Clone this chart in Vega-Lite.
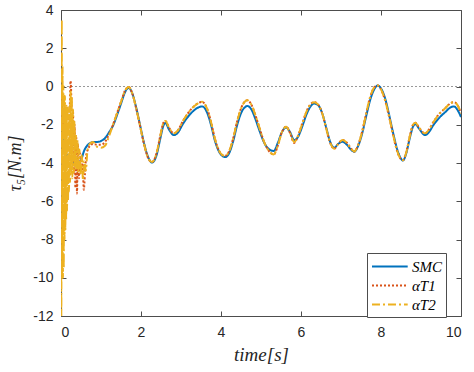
{
  "$schema": "https://vega.github.io/schema/vega-lite/v6.json",
  "width": 400,
  "height": 306,
  "autosize": {"type": "none"},
  "padding": {"left": 61, "top": 10, "right": 13, "bottom": 56},
  "background": "white",
  "config": {
    "view": {"stroke": "#4d4d4d", "strokeWidth": 1},
    "axis": {
      "grid": false,
      "domain": false,
      "tickColor": "#4d4d4d",
      "tickSize": -5,
      "labelFont": "Liberation Sans",
      "labelFontSize": 14,
      "labelColor": "#262626",
      "titleFont": "Liberation Serif",
      "titleFontStyle": "italic",
      "titleFontWeight": "normal",
      "titleColor": "#262626"
    },
    "legend": {
      "title": null, "orient": "none", "legendX": 306, "legendY": 243,
      "symbolType": "M-1,0H3.2", "symbolSize": 289, "symbolStrokeWidth": 2,
      "labelOffset": 22, "labelFont": "Liberation Serif", "labelFontStyle": "italic",
      "labelFontSize": 15, "labelColor": "#000000", "fillColor": "white",
      "strokeColor": "#4d4d4d", "padding": 4, "rowPadding": 1
    }
  },
  "resolve": {"axis": {"x": "independent", "y": "independent"}},
  "layer": [
    {
      "data": {"values": [{"z": 0}]},
      "mark": {"type": "rule", "color": "#999999", "strokeDash": [2, 2], "strokeWidth": 1},
      "encoding": {
        "y": {"field": "z", "type": "quantitative", "scale": {"domain": [-12, 4], "nice": false}, "axis": null}
      }
    },
    {
      "data": {
        "values": [
          {"t": 0, "SMC": 0}, {"t": 0.03, "SMC": -1.2}, {"t": 0.06, "SMC": -2.6}, {"t": 0.1, "SMC": -3.3},
          {"t": 0.15, "SMC": -3.6}, {"t": 0.2, "SMC": -3.6}, {"t": 0.3, "SMC": -3.9}, {"t": 0.4, "SMC": -4.03},
          {"t": 0.5, "SMC": -3.85}, {"t": 0.58, "SMC": -3.35}, {"t": 0.65, "SMC": -3.1}, {"t": 0.72, "SMC": -2.97},
          {"t": 0.8, "SMC": -2.9}, {"t": 0.9, "SMC": -2.9},
          {"t": 0, "αT1": 0}, {"t": 0.03, "αT1": -1.6}, {"t": 0.06, "αT1": -2.0}, {"t": 0.1, "αT1": -2.1},
          {"t": 0.14, "αT1": -2.0}, {"t": 0.17, "αT1": -2.2}, {"t": 0.2, "αT1": -1.9}, {"t": 0.22, "αT1": -1.0},
          {"t": 0.24, "αT1": 0.3}, {"t": 0.26, "αT1": -0.8}, {"t": 0.28, "αT1": -3.0}, {"t": 0.3, "αT1": -1.3},
          {"t": 0.32, "αT1": -4.5}, {"t": 0.34, "αT1": -2.0}, {"t": 0.36, "αT1": -5.3}, {"t": 0.38, "αT1": -2.6},
          {"t": 0.4, "αT1": -5.6}, {"t": 0.42, "αT1": -3.0}, {"t": 0.45, "αT1": -4.8}, {"t": 0.48, "αT1": -3.5},
          {"t": 0.51, "αT1": -4.3}, {"t": 0.54, "αT1": -4.0}, {"t": 0.57, "αT1": -5.4}, {"t": 0.6, "αT1": -4.5},
          {"t": 0.63, "αT1": -3.6}, {"t": 0.67, "αT1": -3.3}, {"t": 0.72, "αT1": -3.1}, {"t": 0.8, "αT1": -3.0},
          {"t": 0.9, "αT1": -3.05},
          {"t": 0, "αT2": 0}, {"t": 0.008, "αT2": -12}, {"t": 0.018, "αT2": 3.5}, {"t": 0.028, "αT2": -10},
          {"t": 0.038, "αT2": 1.0}, {"t": 0.048, "αT2": -10}, {"t": 0.058, "αT2": 0}, {"t": 0.068, "αT2": -9.5},
          {"t": 0.078, "αT2": -0.5}, {"t": 0.088, "αT2": -8}, {"t": 0.098, "αT2": -0.5}, {"t": 0.108, "αT2": -7.5},
          {"t": 0.118, "αT2": -1}, {"t": 0.128, "αT2": -7}, {"t": 0.138, "αT2": -1}, {"t": 0.15, "αT2": -6.5},
          {"t": 0.162, "αT2": -1}, {"t": 0.175, "αT2": -6}, {"t": 0.188, "αT2": -1.5}, {"t": 0.2, "αT2": -5.5},
          {"t": 0.213, "αT2": -1}, {"t": 0.226, "αT2": -5}, {"t": 0.24, "αT2": -0.2}, {"t": 0.255, "αT2": -4.5},
          {"t": 0.27, "αT2": -0.5}, {"t": 0.285, "αT2": -4.8}, {"t": 0.3, "αT2": -1.2}, {"t": 0.318, "αT2": -4.5},
          {"t": 0.336, "αT2": -1.8}, {"t": 0.354, "αT2": -4.3}, {"t": 0.372, "αT2": -2.5}, {"t": 0.392, "αT2": -4.4},
          {"t": 0.412, "αT2": -2.8}, {"t": 0.435, "αT2": -4.5}, {"t": 0.46, "αT2": -3.3}, {"t": 0.49, "αT2": -4.6},
          {"t": 0.52, "αT2": -3.6}, {"t": 0.55, "αT2": -4.9}, {"t": 0.58, "αT2": -3.9}, {"t": 0.62, "αT2": -4.4},
          {"t": 0.66, "αT2": -3.4}, {"t": 0.72, "αT2": -3.0}, {"t": 0.8, "αT2": -2.9}, {"t": 0.9, "αT2": -3.15},
          {"t": 1.0, "SMC": -2.85, "αT1": -3.05, "αT2": -3.2},
          {"t": 1.1, "SMC": -2.7, "αT1": -2.9, "αT2": -3.1},
          {"t": 1.2, "SMC": -2.4, "αT1": -2.5, "αT2": -2.6},
          {"t": 1.3, "SMC": -2.05, "αT1": -2.0, "αT2": -2.0},
          {"t": 1.4, "SMC": -1.5, "αT1": -1.4, "αT2": -1.4},
          {"t": 1.5, "SMC": -0.9, "αT1": -0.8, "αT2": -0.8},
          {"t": 1.6, "SMC": -0.3, "αT1": -0.22, "αT2": -0.22},
          {"t": 1.69, "SMC": -0.07, "αT1": -0.02, "αT2": -0.02},
          {"t": 1.78, "SMC": -0.35, "αT1": -0.35, "αT2": -0.35},
          {"t": 1.88, "SMC": -1.1, "αT1": -1.15, "αT2": -1.15},
          {"t": 1.98, "SMC": -2.05, "αT1": -2.1, "αT2": -2.1},
          {"t": 2.08, "SMC": -3.0, "αT1": -3.05, "αT2": -3.05},
          {"t": 2.18, "SMC": -3.7, "αT1": -3.75, "αT2": -3.75},
          {"t": 2.275, "SMC": -3.98, "αT1": -3.95, "αT2": -3.95},
          {"t": 2.38, "SMC": -3.65, "αT1": -3.55, "αT2": -3.55},
          {"t": 2.48, "SMC": -2.75, "αT1": -2.6, "αT2": -2.6},
          {"t": 2.56, "SMC": -2.05, "αT1": -1.9, "αT2": -1.9},
          {"t": 2.61, "SMC": -1.9, "αT1": -1.8, "αT2": -1.8},
          {"t": 2.7, "SMC": -2.25, "αT1": -2.15, "αT2": -2.15},
          {"t": 2.82, "SMC": -2.54, "αT1": -2.45, "αT2": -2.45},
          {"t": 2.92, "SMC": -2.42, "αT1": -2.3, "αT2": -2.3},
          {"t": 3.05, "SMC": -1.95, "αT1": -1.8, "αT2": -1.8},
          {"t": 3.25, "SMC": -1.4, "αT1": -1.2, "αT2": -1.2},
          {"t": 3.45, "SMC": -1.08, "αT1": -0.85, "αT2": -0.85},
          {"t": 3.53, "SMC": -1.04, "αT1": -0.8, "αT2": -0.8},
          {"t": 3.65, "SMC": -1.35, "αT1": -1.15, "αT2": -1.15},
          {"t": 3.75, "SMC": -2.0, "αT1": -1.85, "αT2": -1.85},
          {"t": 3.85, "SMC": -2.85, "αT1": -2.75, "αT2": -2.75},
          {"t": 3.95, "SMC": -3.4, "αT1": -3.35, "αT2": -3.35},
          {"t": 4.05, "SMC": -3.65, "αT1": -3.6, "αT2": -3.6},
          {"t": 4.11, "SMC": -3.69, "αT1": -3.62, "αT2": -3.62},
          {"t": 4.2, "SMC": -3.5, "αT1": -3.4, "αT2": -3.4},
          {"t": 4.3, "SMC": -2.9, "αT1": -2.75, "αT2": -2.75},
          {"t": 4.4, "SMC": -2.05, "αT1": -1.85, "αT2": -1.85},
          {"t": 4.5, "SMC": -1.4, "αT1": -1.15, "αT2": -1.15},
          {"t": 4.6, "SMC": -1.08, "αT1": -0.78, "αT2": -0.78},
          {"t": 4.66, "SMC": -1.02, "αT1": -0.72, "αT2": -0.72},
          {"t": 4.76, "SMC": -1.2, "αT1": -0.95, "αT2": -0.95},
          {"t": 4.86, "SMC": -1.7, "αT1": -1.5, "αT2": -1.5},
          {"t": 4.96, "SMC": -2.3, "αT1": -2.15, "αT2": -2.15},
          {"t": 5.06, "SMC": -2.85, "αT1": -2.8, "αT2": -2.8},
          {"t": 5.16, "SMC": -3.2, "αT1": -3.25, "αT2": -3.25},
          {"t": 5.32, "SMC": -3.37, "αT1": -3.55, "αT2": -3.55},
          {"t": 5.42, "SMC": -2.95, "αT1": -3.1, "αT2": -3.1},
          {"t": 5.52, "SMC": -2.4, "αT1": -2.4, "αT2": -2.4},
          {"t": 5.63, "SMC": -2.14, "αT1": -2.1, "αT2": -2.1},
          {"t": 5.73, "SMC": -2.4, "αT1": -2.45, "αT2": -2.45},
          {"t": 5.83, "SMC": -2.8, "αT1": -2.95, "αT2": -2.9},
          {"t": 5.93, "SMC": -2.62, "αT1": -2.55, "αT2": -2.55},
          {"t": 6.03, "SMC": -2.1, "αT1": -1.95, "αT2": -1.95},
          {"t": 6.13, "SMC": -1.5, "αT1": -1.35, "αT2": -1.35},
          {"t": 6.23, "SMC": -1.07, "αT1": -0.95, "αT2": -0.95},
          {"t": 6.33, "SMC": -0.89, "αT1": -0.82, "αT2": -0.82},
          {"t": 6.43, "SMC": -0.98, "αT1": -0.95, "αT2": -0.95},
          {"t": 6.53, "SMC": -1.4, "αT1": -1.4, "αT2": -1.4},
          {"t": 6.63, "SMC": -2.15, "αT1": -2.2, "αT2": -2.2},
          {"t": 6.73, "SMC": -2.9, "αT1": -2.95, "αT2": -2.95},
          {"t": 6.83, "SMC": -3.2, "αT1": -3.25, "αT2": -3.25},
          {"t": 6.93, "SMC": -3.0, "αT1": -3.0, "αT2": -3.0},
          {"t": 7.04, "SMC": -2.89, "αT1": -2.8, "αT2": -2.8},
          {"t": 7.15, "SMC": -3.05, "αT1": -2.95, "αT2": -2.95},
          {"t": 7.25, "SMC": -3.3, "αT1": -3.25, "αT2": -3.25},
          {"t": 7.33, "SMC": -3.41, "αT1": -3.4, "αT2": -3.4},
          {"t": 7.43, "SMC": -3.1, "αT1": -3.05, "αT2": -3.05},
          {"t": 7.53, "SMC": -2.45, "αT1": -2.35, "αT2": -2.35},
          {"t": 7.63, "SMC": -1.55, "αT1": -1.4, "αT2": -1.4},
          {"t": 7.73, "SMC": -0.7, "αT1": -0.55, "αT2": -0.55},
          {"t": 7.83, "SMC": -0.15, "αT1": -0.05, "αT2": -0.05},
          {"t": 7.92, "SMC": 0.05, "αT1": 0.05, "αT2": 0.05},
          {"t": 8.0, "SMC": -0.1, "αT1": -0.15, "αT2": -0.15},
          {"t": 8.1, "SMC": -0.6, "αT1": -0.7, "αT2": -0.7},
          {"t": 8.2, "SMC": -1.45, "αT1": -1.55, "αT2": -1.55},
          {"t": 8.3, "SMC": -2.4, "αT1": -2.5, "αT2": -2.5},
          {"t": 8.4, "SMC": -3.25, "αT1": -3.35, "αT2": -3.35},
          {"t": 8.48, "SMC": -3.7, "αT1": -3.75, "αT2": -3.75},
          {"t": 8.55, "SMC": -3.87, "αT1": -3.85, "αT2": -3.85},
          {"t": 8.63, "SMC": -3.5, "αT1": -3.45, "αT2": -3.45},
          {"t": 8.72, "SMC": -2.7, "αT1": -2.6, "αT2": -2.6},
          {"t": 8.8, "SMC": -2.1, "αT1": -2.0, "αT2": -2.0},
          {"t": 8.86, "SMC": -1.96, "αT1": -1.9, "αT2": -1.9},
          {"t": 8.95, "SMC": -2.2, "αT1": -2.15, "αT2": -2.15},
          {"t": 9.1, "SMC": -2.54, "αT1": -2.45, "αT2": -2.45},
          {"t": 9.2, "SMC": -2.38, "αT1": -2.25, "αT2": -2.25},
          {"t": 9.3, "SMC": -2.05, "αT1": -1.9, "αT2": -1.9},
          {"t": 9.45, "SMC": -1.65, "αT1": -1.45, "αT2": -1.45},
          {"t": 9.6, "SMC": -1.35, "αT1": -1.15, "αT2": -1.15},
          {"t": 9.72, "SMC": -1.12, "αT1": -0.9, "αT2": -0.9},
          {"t": 9.82, "SMC": -1.04, "αT1": -0.82, "αT2": -0.82},
          {"t": 9.92, "SMC": -1.25, "αT1": -1.0, "αT2": -1.0},
          {"t": 10, "SMC": -1.6, "αT1": -1.4, "αT2": -1.4}
        ]
      },
      "transform": [
        {"fold": ["SMC", "αT1", "αT2"], "as": ["s", "v"]},
        {"filter": "isValid(datum.v)"}
      ],
      "mark": {"type": "line", "interpolate": "monotone", "strokeWidth": 2, "clip": true},
      "encoding": {
        "x": {
          "field": "t", "type": "quantitative",
          "scale": {"domain": [0, 10], "nice": false},
          "axis": {"orient": "bottom", "values": [0, 2, 4, 6, 8, 10], "title": "time[s]", "titleFontSize": 19, "labelPadding": 14, "titlePadding": 6}
        },
        "y": {
          "field": "v", "type": "quantitative",
          "scale": {"domain": [-12, 4], "nice": false},
          "axis": {"orient": "left", "values": [-12, -10, -8, -6, -4, -2, 0, 2, 4], "labelExpr": "replace(datum.label, '−', '-')", "title": "τ₅[N.m]", "titleFontSize": 18, "labelPadding": 13, "titlePadding": 8}
        },
        "color": {
          "field": "s", "type": "nominal",
          "scale": {"domain": ["SMC", "αT1", "αT2"], "range": ["#0072BD", "#D95319", "#EDB120"]}
        },
        "strokeDash": {
          "field": "s", "type": "nominal",
          "scale": {"domain": ["SMC", "αT1", "αT2"], "range": [[1, 0], [2, 2], [8, 3, 2, 3]]}
        }
      }
    },
    {
      "data": {"values": [{"t": 0, "v": 0}]},
      "mark": {"type": "point", "opacity": 0},
      "encoding": {
        "x": {"field": "t", "type": "quantitative", "scale": {"domain": [0, 10], "nice": false}, "axis": {"orient": "top", "values": [0, 2, 4, 6, 8, 10], "labels": false, "title": null}},
        "y": {"field": "v", "type": "quantitative", "scale": {"domain": [-12, 4], "nice": false}, "axis": {"orient": "right", "values": [-12, -10, -8, -6, -4, -2, 0, 2, 4], "labels": false, "title": null}}
      }
    }
  ]
}
